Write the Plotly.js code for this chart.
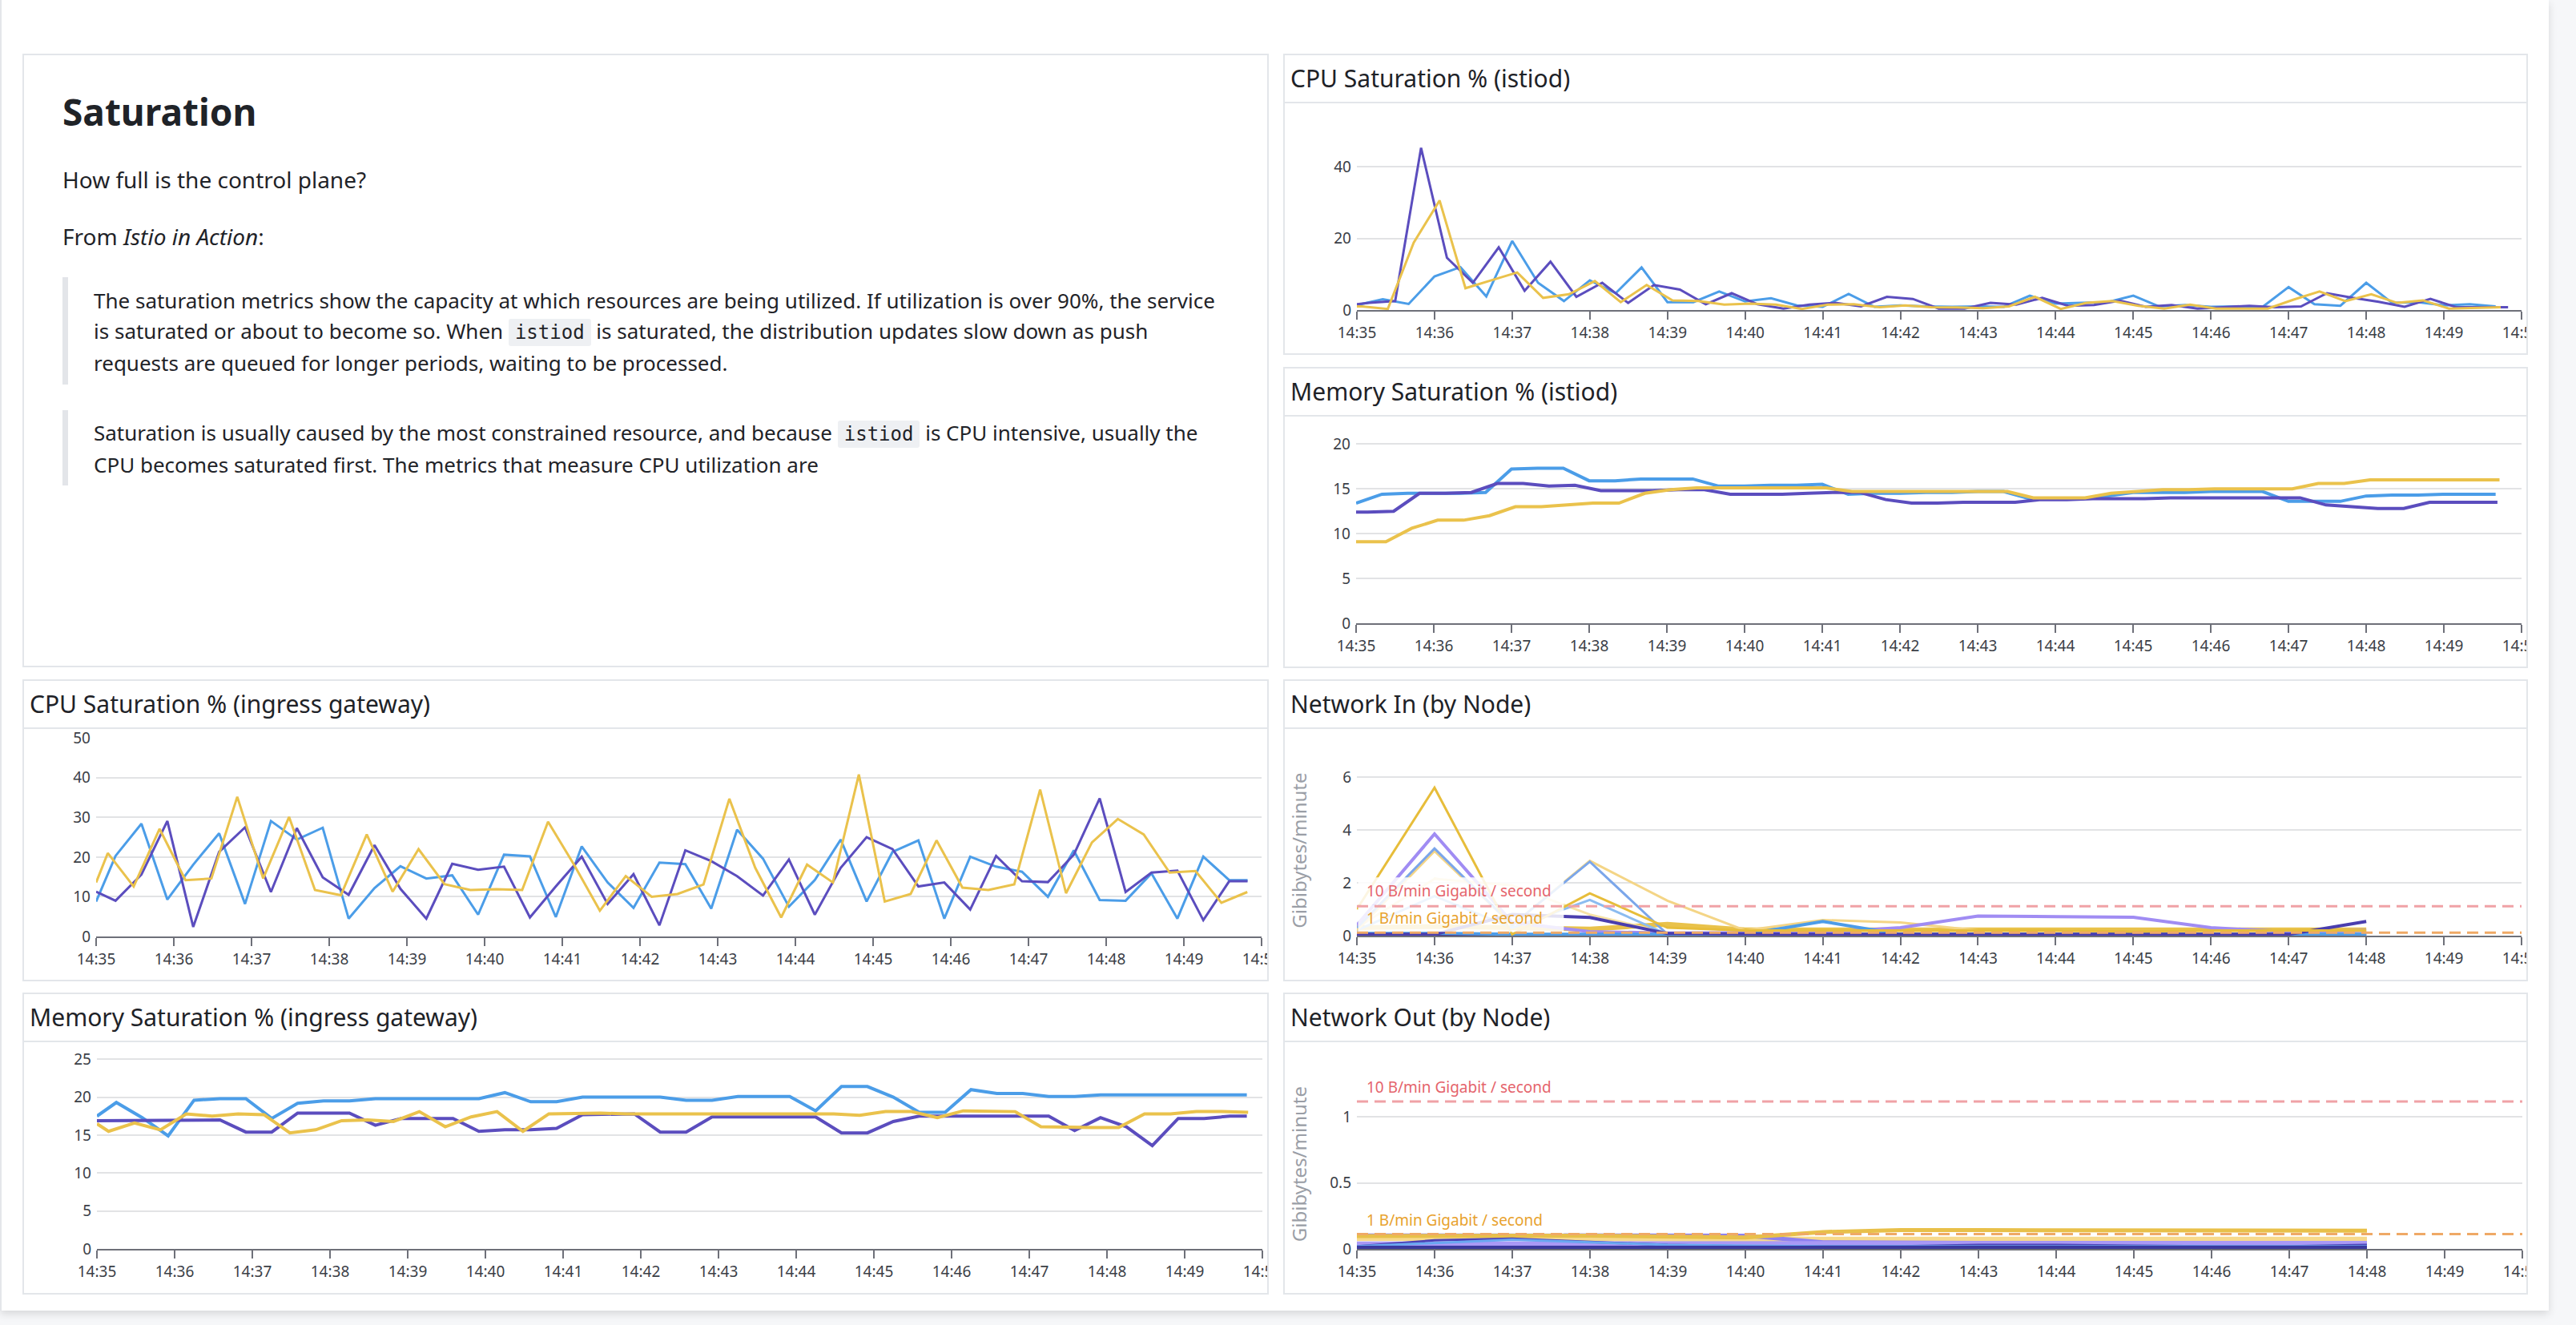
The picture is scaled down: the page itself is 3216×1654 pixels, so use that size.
<!DOCTYPE html>
<html>
<head>
<meta charset="utf-8">
<script src="https://cdn.plot.ly/plotly-3.0.1.min.js"></script>
<style>
html,body{margin:0;padding:0;background:#f6f7f9;width:3216px;height:1654px;overflow:hidden;font-family:"Noto Sans",sans-serif;}
#page{position:absolute;left:0;top:0;width:3182px;height:1636px;background:#fff;box-shadow:0 4px 10px rgba(0,0,0,0.13);border-left:2px solid #e4e6ea;box-sizing:border-box;}
.panel{position:absolute;border:2px solid #e3e6ea;box-sizing:border-box;background:#fff;overflow:hidden;}
.hdr{position:absolute;left:0;top:0;right:0;height:58px;border-bottom:2px solid #e3e6ea;}
.hdr span{position:absolute;left:7px;top:calc(50% - 1px);transform:translateY(-50%);font-size:30px;color:#1e2227;white-space:nowrap;}
.chart{position:absolute;left:0;top:0;}
.txt{position:absolute;white-space:nowrap;color:#1f2328;font-size:28px;line-height:38px;}
.bq{position:absolute;white-space:nowrap;color:#1f2328;font-size:26px;line-height:38px;}
.h1{position:absolute;white-space:nowrap;color:#1f2328;font-size:46px;font-weight:700;line-height:46px;}
.bar{position:absolute;width:7px;background:#e3e5e9;}
code{font-family:"DejaVu Sans Mono",monospace;font-size:24px;background:#eef0f3;padding:3px 8px;border-radius:3px;}
</style>
</head>
<body>
<div id="page">
  <div class="panel" style="left:26px;top:67px;width:1556px;height:766px;">
    <div class="h1" style="left:48px;top:47px;">Saturation</div>
    <div class="txt" style="left:48px;top:136px;">How full is the control plane?</div>
    <div class="txt" style="left:48px;top:207px;">From <i>Istio in Action</i>:</div>
    <div class="bar" style="left:48px;top:277px;height:134px;"></div>
    <div class="bq" style="left:87px;top:287px;">The saturation metrics show the capacity at which resources are being utilized. If utilization is over 90%, the service<br>is saturated or about to become so. When <code>istiod</code> is saturated, the distribution updates slow down as push<br>requests are queued for longer periods, waiting to be processed.</div>
    <div class="bar" style="left:48px;top:443px;height:94px;"></div>
    <div class="bq" style="left:87px;top:452px;">Saturation is usually caused by the most constrained resource, and because <code>istiod</code> is CPU intensive, usually the<br>CPU becomes saturated first. The metrics that measure CPU utilization are</div>
  </div>

  <div class="panel" style="left:1600px;top:67px;width:1554px;height:376px;"><div class="hdr"><span>CPU Saturation % (istiod)</span></div><div class="chart" id="c1"></div></div>
  <div class="panel" style="left:1600px;top:458px;width:1554px;height:376px;"><div class="hdr"><span>Memory Saturation % (istiod)</span></div><div class="chart" id="c2"></div></div>
  <div class="panel" style="left:26px;top:848px;width:1556px;height:377px;"><div class="hdr"><span>CPU Saturation % (ingress gateway)</span></div><div class="chart" id="c3"></div></div>
  <div class="panel" style="left:1600px;top:848px;width:1554px;height:377px;"><div class="hdr"><span>Network In (by Node)</span></div><div class="chart" id="c4"></div></div>
  <div class="panel" style="left:26px;top:1239px;width:1556px;height:377px;"><div class="hdr"><span>Memory Saturation % (ingress gateway)</span></div><div class="chart" id="c5"></div></div>
  <div class="panel" style="left:1600px;top:1239px;width:1554px;height:377px;"><div class="hdr"><span>Network Out (by Node)</span></div><div class="chart" id="c6"></div></div>
</div>

<script>
// ---------- time base ----------
const T0 = Date.UTC(2024, 4, 20, 14, 35, 0);
const MIN = 60000;
const xTickFormat = '%H:%M';

// ---------- CPU Saturation % (istiod) ----------
// first value sits at 14:35:00 (left edge), then one sample every 20 s from an offset
const cpuIstiodBlue   = [1.4, 1.4, 3.0, 1.7, 9.4, 12.0, 3.8, 19.3, 7.6, 2.5, 8.3, 4.7, 11.9, 2.2, 2.2, 5.2, 2.4, 3.3, 1.3, 0.9, 4.5, 0.9, 1.3, 1.0, 0.9, 1.0, 0.9, 4.0, 1.8, 2.0, 2.2, 4.0, 1.0, 1.4, 0.9, 1.0, 0.9, 6.4, 1.6, 1.2, 7.6, 2.0, 2.2, 1.3, 1.6, 1.0];
const cpuIstiodPurple = [1.6, 2.0, 2.5, 45.3, 14.6, 7.6, 17.5, 5.4, 13.5, 3.7, 7.6, 2.0, 7.0, 5.7, 1.6, 4.7, 1.6, 0.4, 1.5, 2.0, 1.0, 3.7, 3.1, 0.4, 0.4, 2.0, 1.5, 3.4, 1.2, 1.4, 2.6, 0.9, 1.4, 0.4, 0.8, 1.2, 0.8, 1.0, 4.7, 3.4, 2.3, 0.9, 3.1, 0.8, 0.8, 0.8];
const cpuIstiodYellow = [1.0, 1.0, 0.3, 18.8, 30.6, 6.1, 8.3, 10.5, 3.4, 4.4, 8.1, 2.2, 7.0, 2.7, 2.5, 1.5, 1.8, 1.5, 0.3, 1.5, 1.6, 0.8, 1.3, 0.8, 0.7, 0.5, 1.0, 3.7, 0.3, 2.0, 2.5, 1.2, 0.4, 1.5, 0.4, 0.4, 0.4, 2.9, 5.2, 2.5, 4.4, 2.0, 2.7, 0.4, 0.6, 0.8];

// ---------- Memory Saturation % (istiod) ----------
const memIstiodBlue   = [13.4, 13.4, 14.4, 14.5, 14.5, 14.5, 14.6, 17.2, 17.3, 17.3, 15.9, 15.9, 16.1, 16.1, 16.1, 15.3, 15.3, 15.4, 15.4, 15.5, 14.4, 14.5, 14.5, 14.6, 14.6, 14.7, 14.7, 13.9, 13.9, 13.9, 14.2, 14.6, 14.6, 14.6, 14.7, 14.7, 14.7, 13.6, 13.6, 13.6, 14.2, 14.3, 14.3, 14.4, 14.4, 14.4];
const memIstiodPurple = [12.4, 12.4, 12.5, 14.5, 14.5, 14.6, 15.6, 15.6, 15.3, 15.4, 14.8, 14.8, 14.8, 14.9, 14.9, 14.4, 14.4, 14.4, 14.5, 14.6, 14.6, 13.8, 13.4, 13.4, 13.5, 13.5, 13.5, 13.8, 13.8, 13.9, 13.9, 13.9, 14.0, 14.0, 14.0, 14.0, 14.0, 14.0, 13.2, 13.0, 12.8, 12.8, 13.5, 13.5, 13.5, 13.5];
const memIstiodYellow = [9.1, 9.1, 9.1, 10.6, 11.5, 11.5, 12.0, 13.0, 13.0, 13.2, 13.4, 13.4, 14.5, 14.9, 15.1, 15.1, 15.1, 15.1, 15.1, 15.1, 14.7, 14.7, 14.7, 14.7, 14.7, 14.7, 14.7, 14.0, 14.0, 14.0, 14.5, 14.7, 14.9, 14.9, 15.0, 15.0, 15.0, 15.0, 15.6, 15.6, 16.0, 16.0, 16.0, 16.0, 16.0, 16.0];

// ---------- CPU Saturation % (ingress gateway) ----------
const cpuIngBlue   = [8.8, 20.3, 28.4, 9.3, 18.1, 26.0, 8.2, 29.1, 24.4, 27.4, 4.5, 12.2, 17.7, 14.6, 15.4, 5.5, 20.6, 20.2, 4.9, 22.7, 13.6, 7.2, 18.6, 18.2, 7.0, 26.9, 19.6, 7.5, 14.2, 24.4, 8.8, 21.3, 24.2, 4.5, 20.1, 17.6, 16.3, 10.0, 21.7, 9.2, 9.0, 15.9, 4.5, 20.1, 14.2, 14.2];
const cpuIngPurple = [11.3, 9.0, 15.6, 29.1, 2.4, 21.3, 27.5, 11.2, 27.3, 14.9, 10.5, 23.0, 12.0, 4.5, 18.3, 16.8, 17.6, 4.8, 12.6, 20.1, 8.2, 15.7, 2.8, 21.7, 19.0, 15.2, 10.3, 19.4, 5.5, 17.3, 25.0, 22.0, 12.6, 13.6, 6.8, 20.3, 13.9, 13.7, 20.6, 34.8, 11.2, 16.1, 16.6, 4.1, 13.9, 13.9];
const cpuIngYellow = [13.6, 21.0, 12.6, 27.1, 14.2, 14.6, 35.2, 14.6, 30.1, 11.7, 10.4, 25.7, 11.3, 22.0, 13.2, 11.7, 11.9, 11.7, 28.9, 18.1, 6.5, 15.2, 10.0, 10.7, 13.1, 34.7, 17.3, 4.8, 18.1, 13.6, 40.8, 8.8, 10.7, 24.2, 12.3, 11.7, 13.1, 37.0, 10.9, 23.7, 29.6, 25.7, 16.1, 16.5, 8.5, 11.2];

// ---------- Memory Saturation % (ingress gateway) ----------
const memIngBlue   = [17.5, 19.3, 17.3, 14.9, 19.6, 19.8, 19.8, 17.2, 19.2, 19.5, 19.5, 19.8, 19.8, 19.8, 19.8, 19.8, 20.6, 19.4, 19.4, 20.0, 20.0, 20.0, 20.0, 19.6, 19.6, 20.1, 20.1, 20.1, 18.2, 21.4, 21.4, 20.0, 18.0, 18.0, 21.0, 20.5, 20.5, 20.1, 20.1, 20.3, 20.3, 20.3, 20.3, 20.3, 20.3, 20.3];
const memIngPurple = [16.9, 16.9, 16.9, 17.0, 17.0, 17.0, 15.4, 15.4, 17.9, 17.9, 17.9, 16.3, 17.2, 17.2, 17.2, 15.5, 15.7, 15.7, 15.9, 17.7, 17.8, 17.8, 15.4, 15.4, 17.4, 17.4, 17.4, 17.4, 17.4, 15.3, 15.3, 16.8, 17.5, 17.5, 17.5, 17.5, 17.5, 17.5, 15.6, 17.3, 16.1, 13.6, 17.2, 17.2, 17.5, 17.5];
const memIngYellow = [16.5, 15.5, 16.6, 15.7, 17.8, 17.5, 17.8, 17.7, 15.3, 15.7, 16.9, 17.0, 16.8, 18.1, 16.1, 17.4, 18.1, 15.5, 17.8, 17.9, 17.9, 17.8, 17.8, 17.8, 17.8, 17.8, 17.8, 17.8, 17.8, 17.8, 17.6, 18.1, 18.1, 17.3, 18.2, 18.1, 18.1, 16.1, 16.0, 16.0, 16.0, 17.8, 17.8, 18.1, 18.1, 18.0];

// ---------- Network In (by Node), per minute 14:35 .. 14:48, GiB/min ----------
const netInGold       = [1.0, 5.6, 0.05, 1.6, 0.3, 0.2, 0.2, 0.2, 0.2, 0.2, 0.15, 0.2, 0.2, 0.2];
const netInLavender   = [0.4, 3.85, 0.5, 0.15, 0.1, 0.1, 0.12, 0.3, 0.74, 0.72, 0.7, 0.3, 0.15, 0.2];
const netInCornflower = [0.3, 3.3, 0.4, 2.8, 0.05, 0.05, 0.05, 0.05, 0.05, 0.05, 0.05, 0.05, 0.05, 0.05];
const netInPale       = [0.2, 3.2, 0.4, 2.83, 1.32, 0.2, 0.59, 0.5, 0.2, 0.2, 0.1, 0.1, 0.1, 0.1];
const netInPale2      = [0.3, 2.15, 1.9, 0.8, 0.1, 0.1, 0.1, 0.1, 0.1, 0.1, 0.1, 0.1, 0.1, 0.1];
const netInSky        = [0.2, 1.5, 0.3, 1.35, 0.05, 0.05, 0.05, 0.05, 0.05, 0.05, 0.05, 0.05, 0.05, 0.05];
const netInAmber      = [0.3, 0.35, 0.3, 0.25, 0.43, 0.22, 0.22, 0.22, 0.22, 0.22, 0.2, 0.22, 0.22, 0.22];
const netInIndigo     = [0.05, 0.05, 0.8, 0.69, 0.08, 0.05, 0.05, 0.05, 0.05, 0.05, 0.05, 0.05, 0.05, 0.54];
const netInBlue       = [0.1, 0.1, 0.05, 0.05, 0.05, 0.05, 0.54, 0.05, 0.05, 0.05, 0.05, 0.05, 0.05, 0.05];
const netInNavy       = [0.02, 0.02, 0.02, 0.02, 0.02, 0.02, 0.02, 0.02, 0.02, 0.02, 0.02, 0.02, 0.02, 0.02];

// ---------- Network Out (by Node), per minute 14:35 .. 14:48, GiB/min ----------
const netOutPale     = [0.08, 0.085, 0.085, 0.08, 0.075, 0.072, 0.072, 0.072, 0.072, 0.072, 0.072, 0.072, 0.072, 0.072];
const netOutViolet   = [0.105, 0.105, 0.105, 0.105, 0.105, 0.1, 0.05, 0.045, 0.045, 0.045, 0.045, 0.045, 0.045, 0.045];
const netOutGold     = [0.097, 0.095, 0.1, 0.1, 0.095, 0.087, 0.128, 0.142, 0.142, 0.142, 0.142, 0.142, 0.142, 0.138];
const netOutLavender = [0.035, 0.035, 0.035, 0.035, 0.035, 0.035, 0.04, 0.04, 0.04, 0.04, 0.04, 0.04, 0.04, 0.04];
const netOutIndigo   = [0.02, 0.065, 0.077, 0.055, 0.03, 0.02, 0.02, 0.02, 0.03, 0.03, 0.025, 0.02, 0.02, 0.03];
const netOutBlue     = [0.02, 0.045, 0.07, 0.05, 0.03, 0.025, 0.02, 0.02, 0.02, 0.02, 0.02, 0.02, 0.02, 0.02];
const netOutNavy     = [0.012, 0.012, 0.012, 0.012, 0.012, 0.012, 0.012, 0.012, 0.012, 0.012, 0.012, 0.012, 0.012, 0.012];

// thresholds (GiB/min)
const thresholdHigh = 1.117, thresholdLow = 0.1117;
const thresholdHighLabel = '10 B/min Gigabit / second';
const thresholdLowLabel  = '1 B/min Gigabit / second';

// ---------- helpers ----------
function sampleTimes(n, offsetMin, endMin) {
  const t = [T0];
  for (let i = 1; i < n; i++) t.push(T0 + (offsetMin + (i - 1) / 3) * MIN);
  if (endMin != null) t[n - 1] = T0 + endMin * MIN;
  return t;
}
function minuteTimes(n) { const t = []; for (let i = 0; i < n; i++) t.push(T0 + i * MIN); return t; }

const C_PURPLE = '#5b4dbe', C_BLUE = '#4b9de8', C_YELLOW = '#eac24c';
function ln(x, y, color, width) {
  return {x: x, y: y, type: 'scatter', mode: 'lines', line: {color: color, width: width || 3}, hoverinfo: 'skip'};
}

function draw(id, box, spec, traces, extras) {
  const l = spec.x0 - box.left, pw = spec.x1 - spec.x0, r = box.width - l - pw;
  const t = spec.top - box.top, ph = spec.y0 - spec.top, b = box.height - t - ph;
  const ymax = ph / spec.ppu;
  const el = document.getElementById(id);
  el.style.width = box.width + 'px'; el.style.height = box.height + 'px';
  const layout = {
    width: box.width, height: box.height,
    margin: {l: l, r: r, t: t, b: b, pad: 0},
    paper_bgcolor: 'rgba(0,0,0,0)', plot_bgcolor: 'rgba(0,0,0,0)',
    showlegend: false,
    font: {family: 'Noto Sans, sans-serif', size: 19, color: '#3b4047'},
    xaxis: {type: 'date', range: [T0, T0 + 15 * MIN], tick0: T0, dtick: MIN, tickformat: xTickFormat,
      ticks: 'outside', ticklen: 10, tickwidth: 2, tickcolor: '#6e7079',
      showline: true, linecolor: '#6e7079', linewidth: 2, showgrid: false, zeroline: false,
      tickfont: {family: 'Noto Sans, sans-serif', size: 19, color: '#3b4047'}, automargin: false},
    yaxis: {range: [0, ymax], tick0: 0, dtick: spec.dtick, showgrid: true, gridcolor: '#e2e3e5', gridwidth: 2,
      zeroline: false, showline: false, ticks: '', ticklabelstandoff: 6,
      tickfont: {family: 'Noto Sans, sans-serif', size: 19, color: '#3b4047'}, automargin: false},
    shapes: [], annotations: []
  };
  if (extras) extras(layout, {l: l, pw: pw, ph: ph, spec: spec, box: box});
  Plotly.newPlot(el, traces, layout, {staticPlot: true, displayModeBar: false});
}

function netExtras(labelHighY, labelLowY, titleY) {
  return function (layout, g) {
    const s = g.spec;
    const px = xAbs => (xAbs - s.x0) / g.pw;
    const py = yAbs => (s.y0 - yAbs) / g.ph;
    // translucent label backgrounds (under the threshold lines, above the series)
    [labelHighY, labelLowY].forEach(function (yc) {
      layout.shapes.push({type: 'rect', xref: 'paper', yref: 'paper', x0: px(1693), x1: px(1950), y0: py(yc + 17), y1: py(yc - 17),
        fillcolor: 'rgba(255,255,255,0.85)', line: {width: 0}, layer: 'above'});
    });
    layout.shapes.push({type: 'line', xref: 'paper', x0: 0, x1: 1, yref: 'y', y0: thresholdHigh, y1: thresholdHigh,
      line: {color: '#f0a2a6', width: 3, dash: '14px,8px'}, layer: 'above'});
    layout.shapes.push({type: 'line', xref: 'paper', x0: 0, x1: 1, yref: 'y', y0: thresholdLow, y1: thresholdLow,
      line: {color: '#efa966', width: 3, dash: '14px,8px'}, layer: 'above'});
    layout.annotations.push({xref: 'paper', yref: 'paper', x: px(1702), y: py(labelHighY), xanchor: 'left', yanchor: 'middle',
      text: thresholdHighLabel, showarrow: false, font: {size: 19, color: '#e5646c'}});
    layout.annotations.push({xref: 'paper', yref: 'paper', x: px(1702), y: py(labelLowY), xanchor: 'left', yanchor: 'middle',
      text: thresholdLowLabel, showarrow: false, font: {size: 19, color: '#e8a22e'}});
    layout.annotations.push({xref: 'paper', yref: 'paper', x: px(1619), y: py(titleY), xanchor: 'center', yanchor: 'middle',
      text: 'Gibibytes/minute', textangle: -90, showarrow: false, font: {size: 24, color: '#9a9ea6'}});
  };
}

// ---------- draw (chart boxes cover the whole panel interior and run past its right edge; the panel clips) ----------
const boxR1 = {left: 1602, top: 69,   width: 1620, height: 372};
const boxR2 = {left: 1602, top: 460,  width: 1620, height: 372};
const boxL3 = {left: 28,   top: 850,  width: 1620, height: 373};
const boxR3 = {left: 1602, top: 850,  width: 1620, height: 373};
const boxL4 = {left: 28,   top: 1241, width: 1620, height: 373};
const boxR4 = {left: 1602, top: 1241, width: 1620, height: 373};

draw('c1', boxR1, {x0: 1691.5, x1: 3146.5, y0: 387, ppu: 4.4675, top: 146, dtick: 20}, [
  ln(sampleTimes(cpuIstiodBlue.length, 0.0), cpuIstiodBlue, C_BLUE),
  ln(sampleTimes(cpuIstiodPurple.length, 0.16), cpuIstiodPurple, C_PURPLE),
  ln(sampleTimes(cpuIstiodYellow.length, 0.065), cpuIstiodYellow, C_YELLOW)
]);

draw('c2', boxR2, {x0: 1690.8, x1: 3145.8, y0: 778.3, ppu: 11.2, top: 530, dtick: 5}, [
  ln(sampleTimes(memIstiodBlue.length, 0.0), memIstiodBlue, C_BLUE, 4),
  ln(sampleTimes(memIstiodPurple.length, 0.15, 14.69), memIstiodPurple, C_PURPLE, 4),
  ln(sampleTimes(memIstiodYellow.length, 0.05), memIstiodYellow, C_YELLOW, 4)
]);

draw('c3', boxL3, {x0: 118.4, x1: 1573.4, y0: 1168.7, ppu: 4.94, top: 1168.7 - 50.05 * 4.94, dtick: 10}, [
  ln(sampleTimes(cpuIngBlue.length, 0.25, 14.82), cpuIngBlue, C_BLUE),
  ln(sampleTimes(cpuIngPurple.length, 0.25, 14.82), cpuIngPurple, C_PURPLE),
  ln(sampleTimes(cpuIngYellow.length, 0.15), cpuIngYellow, C_YELLOW)
]);

const mt = minuteTimes(netInGold.length);
draw('c4', boxR3, {x0: 1691.5, x1: 3146.5, y0: 1167.7, ppu: 32.95, top: 932, dtick: 2}, [
  ln(mt, netInNavy, '#3c3596', 4),
  ln(mt, netInAmber, '#e9c24b', 6),
  ln(mt, netInPale2, '#f7e2a6', 3),
  ln(mt, netInSky, '#8cbcf0', 3),
  ln(mt, netInPale, '#f4d586', 3),
  ln(mt, netInCornflower, '#7ba6ea', 3),
  ln(mt, netInLavender, '#a08cf3', 4),
  ln(mt, netInBlue, '#4d9ce8', 4),
  ln(mt, netInIndigo, '#4a3eae', 4),
  ln(mt, netInGold, '#e7bd3a', 3)
], netExtras(1112, 1146, 1062));

draw('c5', boxL4, {x0: 119, x1: 1574, y0: 1559.3, ppu: 9.48, top: 1306, dtick: 5}, [
  ln(sampleTimes(memIngBlue.length, 0.25, 14.8), memIngBlue, C_BLUE, 4),
  ln(sampleTimes(memIngPurple.length, 0.25, 14.8), memIngPurple, C_PURPLE, 4),
  ln(sampleTimes(memIngYellow.length, 0.15), memIngYellow, C_YELLOW, 4)
]);

draw('c6', boxR4, {x0: 1691.6, x1: 3146.6, y0: 1559.3, ppu: 165, top: 1313, dtick: 0.5}, [
  ln(mt, netOutPale, '#f6d98c', 7),
  ln(mt, netOutViolet, '#8e80f1', 5),
  ln(mt, netOutGold, '#e8c04a', 5),
  ln(mt, netOutLavender, '#a999f5', 7),
  ln(mt, netOutIndigo, '#4d41b5', 3),
  ln(mt, netOutBlue, '#6aa8f0', 3),
  ln(mt, netOutNavy, '#3b3a9e', 4)
], netExtras(1357, 1523, 1453));
</script>
</body>
</html>
